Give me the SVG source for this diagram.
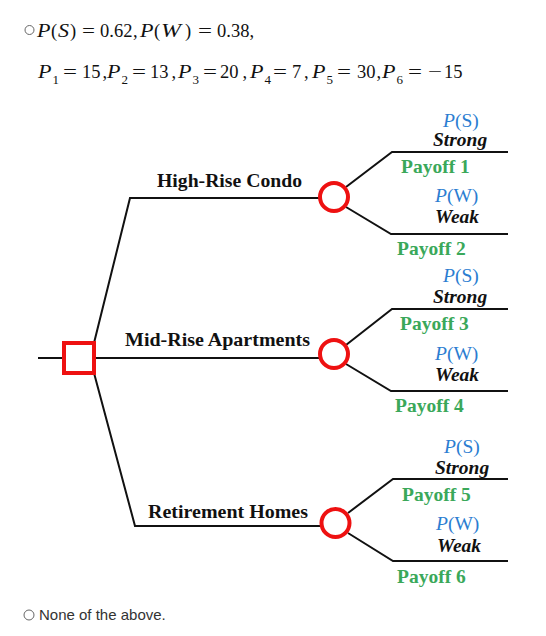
<svg xmlns="http://www.w3.org/2000/svg" width="546" height="636" viewBox="0 0 546 636">
<style>
.m{font-family:"Liberation Serif","Times New Roman",serif;font-size:18.5px;fill:#111}
.i{font-style:italic}
.sub{font-size:13px}
.lbl{font-family:"Liberation Serif","Times New Roman",serif;font-size:19.5px;font-weight:bold;fill:#111}
.pay{font-family:"Liberation Serif","Times New Roman",serif;font-size:19.5px;font-weight:bold;fill:#3aa85a}
.prob{font-family:"Liberation Serif","Times New Roman",serif;font-size:19.5px;fill:#2b7dd1}
.st{font-family:"Liberation Serif","Times New Roman",serif;font-size:19.5px;font-weight:bold;font-style:italic;fill:#111}
.ln{fill:none;stroke:#111;stroke-width:2}
.chance{fill:#fff;stroke:#ee1111;stroke-width:4}
.radio{fill:#fff;stroke:#666;stroke-width:1}
.ui{font-family:"Liberation Sans",Arial,sans-serif;font-size:15px;fill:#333}
</style>
<rect width="546" height="636" fill="#fff"/>

<g id="option1">
<circle class="radio" cx="29.5" cy="30" r="4.5"/>
<text class="m i" x="37" y="37" textLength="13.5" lengthAdjust="spacingAndGlyphs">P</text>
<text class="m" x="51" y="37">(</text>
<text class="m i" x="58" y="37" textLength="11" lengthAdjust="spacingAndGlyphs">S</text>
<text class="m" x="70" y="37">)</text>
<text class="m" x="82" y="37" textLength="13" lengthAdjust="spacingAndGlyphs">=</text>
<text class="m" x="100" y="37">0.62</text>
<text class="m" x="133" y="37">,</text>
<text class="m i" x="140" y="37" textLength="13.5" lengthAdjust="spacingAndGlyphs">P</text>
<text class="m" x="154" y="37">(</text>
<text class="m i" x="161" y="37" textLength="20" lengthAdjust="spacingAndGlyphs">W</text>
<text class="m" x="185" y="37">)</text>
<text class="m" x="198" y="37" textLength="14" lengthAdjust="spacingAndGlyphs">=</text>
<text class="m" x="217" y="37">0.38,</text>

<text class="m i" x="38" y="78" textLength="13.5" lengthAdjust="spacingAndGlyphs">P</text><text class="m sub" x="52.5" y="83.5">1</text>
<text class="m" x="63" y="78" textLength="14" lengthAdjust="spacingAndGlyphs">=</text>
<text class="m" x="82" y="78">15</text><text class="m" x="102.5" y="78">,</text>
<text class="m i" x="107" y="78" textLength="13.5" lengthAdjust="spacingAndGlyphs">P</text><text class="m sub" x="121.5" y="83.5">2</text>
<text class="m" x="132" y="78" textLength="14" lengthAdjust="spacingAndGlyphs">=</text>
<text class="m" x="150" y="78">13</text><text class="m" x="171.5" y="78">,</text>
<text class="m i" x="178" y="78" textLength="13.5" lengthAdjust="spacingAndGlyphs">P</text><text class="m sub" x="192.5" y="83.5">3</text>
<text class="m" x="203" y="78" textLength="14" lengthAdjust="spacingAndGlyphs">=</text>
<text class="m" x="220" y="78">20</text><text class="m" x="242.5" y="78">,</text>
<text class="m i" x="250" y="78" textLength="13.5" lengthAdjust="spacingAndGlyphs">P</text><text class="m sub" x="264.5" y="83.5">4</text>
<text class="m" x="273" y="78" textLength="14" lengthAdjust="spacingAndGlyphs">=</text>
<text class="m" x="292" y="78">7</text><text class="m" x="304" y="78">,</text>
<text class="m i" x="312" y="78" textLength="13.5" lengthAdjust="spacingAndGlyphs">P</text><text class="m sub" x="326.5" y="83.5">5</text>
<text class="m" x="337" y="78" textLength="14" lengthAdjust="spacingAndGlyphs">=</text>
<text class="m" x="357" y="78">30</text><text class="m" x="376.5" y="78">,</text>
<text class="m i" x="382" y="78" textLength="13.5" lengthAdjust="spacingAndGlyphs">P</text><text class="m sub" x="396.5" y="83.5">6</text>
<text class="m" x="408" y="78" textLength="14" lengthAdjust="spacingAndGlyphs">=</text>
<text class="m" x="428" y="78" textLength="14" lengthAdjust="spacingAndGlyphs">−</text>
<text class="m" x="444" y="78">15</text>
</g>

<g id="connectors">
<path class="ln" d="M38 358H64"/>
<path class="ln" d="M94 358H320"/>
<path class="ln" d="M94 343L130 198H320"/>
<path class="ln" d="M94 373L135 526H321"/>
<path class="ln" d="M346 187L392 152H508"/>
<path class="ln" d="M346 207L391 234H508"/>
<path class="ln" d="M346 345L392 309H508"/>
<path class="ln" d="M346 364L391 391H508"/>
<path class="ln" d="M348 513L393 479H508"/>
<path class="ln" d="M348 533L393 561H508"/>
</g>

<g id="decision">
<rect x="64" y="343" width="30" height="30" fill="#fff" stroke="#ee1111" stroke-width="4"/>
</g>

<g id="label-high-rise"><text class="lbl" x="157" y="187" textLength="145" lengthAdjust="spacingAndGlyphs">High-Rise Condo</text></g>
<g id="label-mid-rise"><text class="lbl" x="125" y="346" textLength="185" lengthAdjust="spacingAndGlyphs">Mid-Rise Apartments</text></g>
<g id="label-retirement"><text class="lbl" x="148" y="518" textLength="160" lengthAdjust="spacingAndGlyphs">Retirement Homes</text></g>

<g id="chance1">
<circle class="chance" cx="334" cy="197" r="14"/>
<text class="prob" x="443" y="127"><tspan font-style="italic">P</tspan>(S)</text>
<text class="st" x="433" y="146">Strong</text>
<text class="pay" x="401" y="173">Payoff 1</text>
<text class="prob" x="435" y="202"><tspan font-style="italic">P</tspan>(W)</text>
<text class="st" x="435" y="223">Weak</text>
<text class="pay" x="397" y="255">Payoff 2</text>
</g>

<g id="chance2">
<circle class="chance" cx="334" cy="354" r="14"/>
<text class="prob" x="443" y="282"><tspan font-style="italic">P</tspan>(S)</text>
<text class="st" x="433" y="303">Strong</text>
<text class="pay" x="400" y="330">Payoff 3</text>
<text class="prob" x="435" y="360"><tspan font-style="italic">P</tspan>(W)</text>
<text class="st" x="435" y="381">Weak</text>
<text class="pay" x="395" y="412">Payoff 4</text>
</g>

<g id="chance3">
<circle class="chance" cx="335.5" cy="523" r="14"/>
<text class="prob" x="444" y="453"><tspan font-style="italic">P</tspan>(S)</text>
<text class="st" x="435" y="474">Strong</text>
<text class="pay" x="402" y="501">Payoff 5</text>
<text class="prob" x="436" y="530"><tspan font-style="italic">P</tspan>(W)</text>
<text class="st" x="437" y="552">Weak</text>
<text class="pay" x="397" y="583">Payoff 6</text>
</g>

<g id="option2">
<circle class="radio" cx="29" cy="615" r="5"/>
<text class="ui" x="39" y="620">None of the above.</text>
</g>
</svg>
